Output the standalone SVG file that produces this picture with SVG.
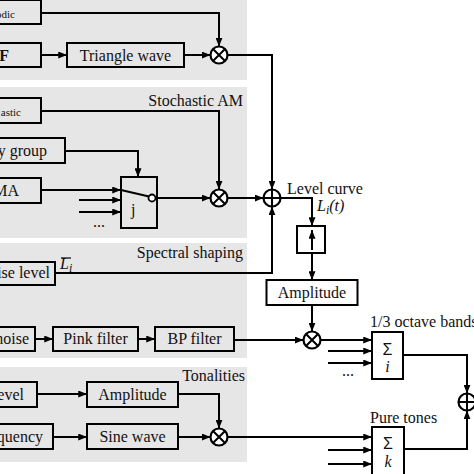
<svg xmlns="http://www.w3.org/2000/svg" width="474" height="474" viewBox="0 0 474 474">
<style>
.panel{fill:#e6e6e6;stroke:none}
.box{fill:none;stroke:#000;stroke-width:2}
.wbox{fill:#fff;stroke:#000;stroke-width:2}
.ln{fill:none;stroke:#000;stroke-width:2}
.arr{fill:none;stroke:#000;stroke-width:2;marker-end:url(#ah)}
.op{fill:#fff;stroke:#000;stroke-width:2.2}
.t{font-family:"Liberation Serif","Times New Roman",serif;font-size:16px;fill:#111}
.ts{font-family:"Liberation Serif","Times New Roman",serif;font-size:11px;fill:#111}
.ti{font-family:"Liberation Serif","Times New Roman",serif;font-size:16px;font-style:italic;fill:#111}
.sig{font-family:"Liberation Sans",Arial,sans-serif;font-size:16px;fill:#111}
</style>
<defs>
<marker id="ah" viewBox="0 0 10 8" refX="10" refY="4" markerWidth="9" markerHeight="7" markerUnits="userSpaceOnUse" orient="auto">
<path d="M0,0 L10,4 L0,8 z" fill="#000"/>
</marker>
</defs>
<rect width="474" height="474" fill="#fff"/>
<g id="panels">
<rect class="panel" x="0" y="0" width="247" height="80"/>
<rect class="panel" x="0" y="87" width="247" height="151"/>
<rect class="panel" x="0" y="243" width="247" height="115"/>
<rect class="panel" x="0" y="367" width="247" height="95"/>
<text class="t" x="243" y="106" text-anchor="end">Stochastic AM</text>
<text class="t" x="243" y="258" text-anchor="end">Spectral shaping</text>
<text class="t" x="245" y="381" text-anchor="end">Tonalities</text>
</g>
<g id="expbox"><rect class="wbox" x="297" y="226" width="28" height="27"/></g>
<g id="connectors">
<path class="arr" d="M41,13 H219 V46.5"/>
<path class="arr" d="M41,55 H67"/>
<path class="arr" d="M184,55 H210.5"/>
<path class="arr" d="M227.5,55 H272 V189.5"/>
<path class="arr" d="M41,111 H219 V189.5"/>
<path class="arr" d="M65,151 H138 V177"/>
<path class="arr" d="M41,190 H121"/>
<path class="arr" d="M79,200 H121"/>
<path class="arr" d="M79,212 H121"/>
<path class="ln" d="M121,190 L149,196.5"/>
<path class="arr" d="M155.5,198 H210.5"/>
<path class="arr" d="M227.5,198 H263.5"/>
<path class="arr" d="M55,273 H272 V206.5"/>
<path class="arr" d="M280.5,198 H312 V226"/>
<path class="arr" d="M312,250 V230"/>
<path class="arr" d="M312,253 V280"/>
<path class="arr" d="M312,305 V331.5"/>
<path class="arr" d="M35,339 H53"/>
<path class="arr" d="M138,339 H155"/>
<path class="arr" d="M234,340 H303.5"/>
<path class="arr" d="M320.5,340 H372"/>
<path class="arr" d="M328,351 H372"/>
<path class="arr" d="M328,363 H372"/>
<path class="arr" d="M403,355 H467 V393.5"/>
<path class="arr" d="M404,449 H467 V410.5"/>
<path class="arr" d="M37,394 H87"/>
<path class="arr" d="M178,394 H219 V428.5"/>
<path class="arr" d="M53,437 H87"/>
<path class="arr" d="M178,437 H210.5"/>
<path class="arr" d="M227.5,437 H372"/>
<path class="arr" d="M328,450 H372"/>
<path class="arr" d="M328,464 H372"/>
</g>
<g id="periodic"><rect class="box" x="-10" y="0" width="51" height="24"/><text class="ts" x="15" y="18" text-anchor="end">odic</text></g>
<g id="lf"><rect class="box" x="-10" y="43" width="51" height="24"/><text class="t" x="9" y="61" text-anchor="end" font-weight="bold">F</text></g>
<g id="triangle"><rect class="box" x="67" y="43" width="117" height="24"/><text class="t" x="125.5" y="61" text-anchor="middle">Triangle wave</text></g>
<g id="mult1"><circle class="op" cx="219" cy="55" r="8.5"/><path class="ln" d="M213,49 L225,61 M225,49 L213,61"/></g>
<g id="stochastic"><rect class="box" x="-10" y="98" width="51" height="25"/><text class="ts" x="21" y="116" text-anchor="end">astic</text></g>
<g id="group"><rect class="box" x="-10" y="138" width="75" height="25"/><text class="t" x="47" y="156" text-anchor="end">y group</text></g>
<g id="arma"><rect class="box" x="-10" y="178" width="51" height="25"/><text class="t" x="19" y="196" text-anchor="end">MA</text></g>
<g id="switch"><rect class="box" x="121" y="177" width="36" height="51"/><circle cx="152" cy="198" r="3.5" fill="#fff" stroke="#000" stroke-width="1.8"/><text class="t" x="131" y="215">j</text><text class="t" x="93" y="227">...</text></g>
<g id="mult2"><circle class="op" cx="219" cy="198" r="8.5"/><path class="ln" d="M213,192 L225,204 M225,192 L213,204"/></g>
<g id="plus1"><circle class="op" cx="272" cy="198" r="8.5"/><path class="ln" d="M263.5,198 H280.5 M272,189.5 V206.5"/></g>
<g id="levelcurve"><text class="t" x="287" y="194">Level curve</text><text class="ti" x="317" y="211">L<tspan font-size="12" dy="3">i</tspan><tspan dy="-3">(t)</tspan></text></g>
<g id="noiselevel"><rect class="box" x="-10" y="262" width="65" height="23"/><text class="t" x="50" y="278" text-anchor="end">ise level</text><text class="ti" x="60" y="269">L<tspan font-size="12" dy="3">i</tspan></text><path d="M61,258 H71" stroke="#111" stroke-width="1.3"/></g>
<g id="noise"><rect class="box" x="-10" y="327" width="45" height="24"/><text class="t" x="29" y="344" text-anchor="end">noise</text></g>
<g id="pink"><rect class="box" x="53" y="327" width="85" height="24"/><text class="t" x="95.5" y="344" text-anchor="middle">Pink filter</text></g>
<g id="bp"><rect class="box" x="155" y="327" width="79" height="24"/><text class="t" x="194.5" y="344" text-anchor="middle">BP filter</text></g>
<g id="amplitude1"><rect class="wbox" x="266.5" y="280" width="91" height="25"/><text class="t" x="312" y="298" text-anchor="middle">Amplitude</text></g>
<g id="mult3"><circle class="op" cx="312" cy="340" r="8.5"/><path class="ln" d="M306,334 L318,346 M318,334 L306,346"/></g>
<g id="sumi"><rect class="wbox" x="372" y="332" width="31" height="47"/><text class="sig" x="387.5" y="355" text-anchor="middle">Σ</text><text class="ti" x="387.5" y="372" text-anchor="middle" font-size="14">i</text><text class="t" x="342" y="376">...</text><text class="t" x="370" y="327">1/3 octave bands</text></g>
<g id="plus2"><circle class="op" cx="467" cy="402" r="8.5"/><path class="ln" d="M458.5,402 H475.5 M467,393.5 V410.5"/></g>
<g id="tonelevel"><rect class="box" x="-10" y="382" width="47" height="25"/><text class="t" x="24" y="400" text-anchor="end">evel</text></g>
<g id="amplitude2"><rect class="box" x="87" y="382" width="91" height="25"/><text class="t" x="132.5" y="400" text-anchor="middle">Amplitude</text></g>
<g id="tonefreq"><rect class="box" x="-10" y="424" width="63" height="25"/><text class="t" x="43" y="442" text-anchor="end">quency</text></g>
<g id="sine"><rect class="box" x="87" y="424" width="91" height="25"/><text class="t" x="132.5" y="442" text-anchor="middle">Sine wave</text></g>
<g id="mult4"><circle class="op" cx="219" cy="437" r="8.5"/><path class="ln" d="M213,431 L225,443 M225,431 L213,443"/></g>
<g id="sumk"><rect class="wbox" x="372" y="427" width="32" height="60"/><text class="sig" x="388" y="449" text-anchor="middle">Σ</text><text class="ti" x="388" y="467" text-anchor="middle" font-size="14">k</text><text class="t" x="370" y="423">Pure tones</text></g>
</svg>
